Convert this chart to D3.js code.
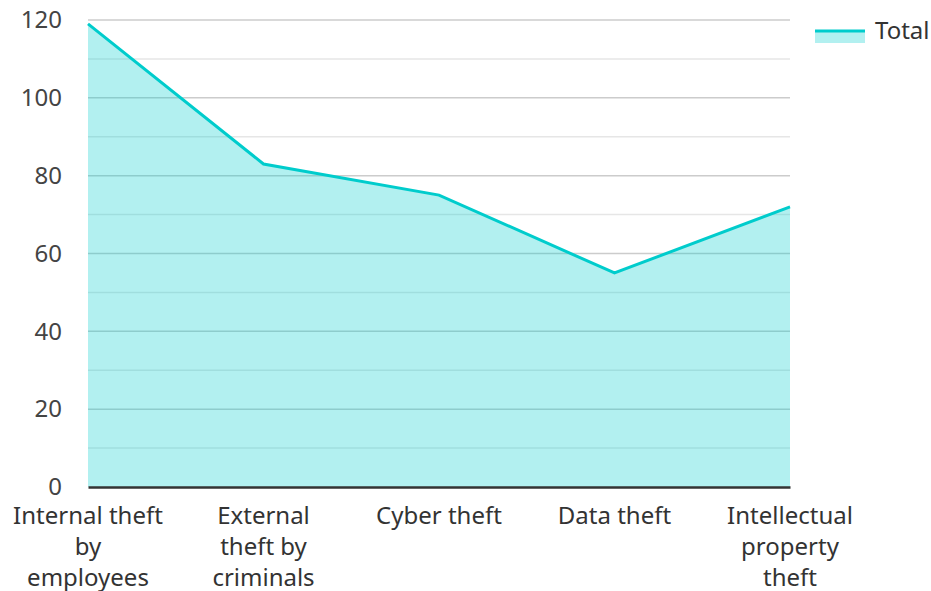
<!DOCTYPE html>
<html>
<head>
<meta charset="utf-8">
<script src="https://cdn.jsdelivr.net/npm/d3@7"></script>
<style>
  body { margin: 0; background: #fff; }
  svg { display: block; font-family: "Noto Sans", "Open Sans", sans-serif; }
</style>
</head>
<body>
<div id="my-chart"></div>
<script>
var categories = ["Internal theft by employees", "External theft by criminals", "Cyber theft", "Data theft", "Intellectual property theft"];
// label lines as they wrap in the picture
var categoryLines = [
  ["Internal theft", "by", "employees"],
  ["External", "theft by", "criminals"],
  ["Cyber theft"],
  ["Data theft"],
  ["Intellectual", "property", "theft"]
];
var totals = [119, 83, 75, 55, 72];
var yTicks = [0, 20, 40, 60, 80, 100, 120];
var yMinor = [10, 30, 50, 70, 90, 110];
var seriesName = "Total";

var width = 931;
var height = 591;
var plotLeft = 88, plotRight = 790, plotTop = 20, plotBottom = 487;
var teal = "#00cccc";
var fontSize = "24px";

var svg = d3.select("div#my-chart").append("svg")
  .attr("width", width)
  .attr("height", height);

var data = categories.map(function(c, i) { return {cat: c, value: totals[i], lines: categoryLines[i]}; });

var xScale = d3.scalePoint().domain(categories).range([plotLeft, plotRight]);
var yScale = d3.scaleLinear().domain([0, 120]).range([plotBottom, plotTop]);

// grid lines
svg.append("g").selectAll("line")
  .data(yMinor)
  .enter().append("line")
  .attr("x1", plotLeft).attr("x2", plotRight)
  .attr("y1", function(d) { return yScale(d); })
  .attr("y2", function(d) { return yScale(d); })
  .attr("stroke", "#e6e6e6")
  .attr("stroke-width", 1.5);

svg.append("g").selectAll("line")
  .data(yTicks.filter(function(d) { return d > 0; }))
  .enter().append("line")
  .attr("x1", plotLeft).attr("x2", plotRight)
  .attr("y1", function(d) { return yScale(d); })
  .attr("y2", function(d) { return yScale(d); })
  .attr("stroke", "#cccccc")
  .attr("stroke-width", 1.5);

// area + line
var area = d3.area()
  .x(function(d) { return xScale(d.cat); })
  .y0(yScale(0))
  .y1(function(d) { return yScale(d.value); });

var line = d3.line()
  .x(function(d) { return xScale(d.cat); })
  .y(function(d) { return yScale(d.value); });

svg.append("path")
  .datum(data)
  .attr("d", area)
  .attr("fill", teal)
  .attr("fill-opacity", 0.3);

svg.append("path")
  .datum(data)
  .attr("d", line)
  .attr("fill", "none")
  .attr("stroke", teal)
  .attr("stroke-width", 3);

// y axis labels
var yAxis = d3.axisLeft(yScale).tickValues(yTicks).tickSize(0).tickPadding(26);
var yg = svg.append("g")
  .attr("transform", "translate(" + plotLeft + ",0)")
  .call(yAxis);
yg.select(".domain").remove();
yg.selectAll("text")
  .attr("fill", "#444")
  .style("font-size", fontSize)
  .style("font-family", "'Noto Sans', sans-serif");

// x axis
var xAxis = d3.axisBottom(xScale).tickSize(0).tickFormat("");
var xg = svg.append("g")
  .attr("transform", "translate(0," + plotBottom + ")")
  .call(xAxis);
xg.select(".domain")
  .attr("stroke", "#333")
  .attr("stroke-width", 2.5);

svg.append("g").selectAll("text")
  .data(data)
  .enter().append("text")
  .attr("text-anchor", "middle")
  .attr("fill", "#333")
  .style("font-size", fontSize)
  .attr("x", function(d) { return xScale(d.cat); })
  .attr("y", plotBottom + 37)
  .each(function(d) {
    var t = d3.select(this);
    d.lines.forEach(function(l, i) {
      t.append("tspan")
        .attr("x", xScale(d.cat))
        .attr("dy", i == 0 ? 0 : 31)
        .text(l);
    });
  });

// legend
var lg = svg.append("g").attr("transform", "translate(815,31)");
lg.append("rect")
  .attr("x", 0).attr("y", 0)
  .attr("width", 50).attr("height", 12)
  .attr("fill", teal).attr("fill-opacity", 0.3);
lg.append("line")
  .attr("x1", 0).attr("x2", 50)
  .attr("y1", 0).attr("y2", 0)
  .attr("stroke", teal).attr("stroke-width", 3);
lg.append("text")
  .attr("x", 60).attr("y", 0)
  .attr("dy", "0.35em")
  .attr("fill", "#333")
  .style("font-size", fontSize)
  .text(seriesName);
</script>
</body>
</html>
